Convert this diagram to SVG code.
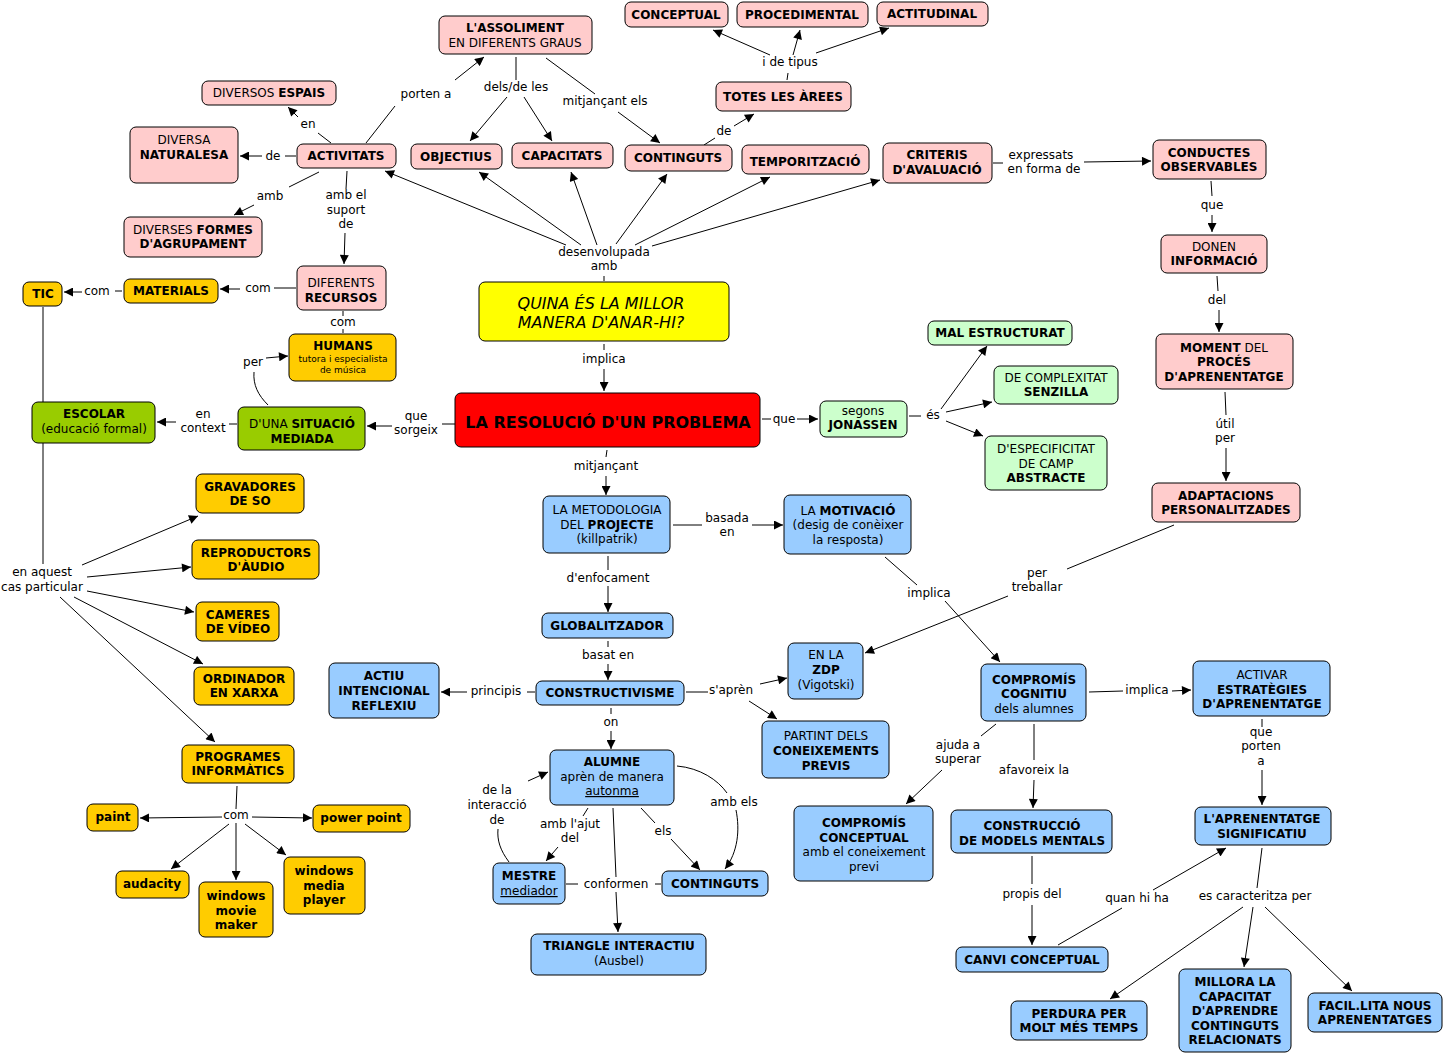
<svg xmlns="http://www.w3.org/2000/svg" width="1444" height="1054" viewBox="0 0 1444 1054">
<style>
text{font-family:"DejaVu Sans",Verdana,sans-serif;font-size:12px;fill:#000;text-anchor:middle}
.b{font-weight:bold}
.q{font-size:16px;font-style:italic}
.r{font-size:16px;font-weight:bold}
.s{font-size:9px}
.n rect{stroke:#000;stroke-width:1}
.pk rect{fill:#ffcccc}.or rect{fill:#ffcc00}.lg rect{fill:#ccffcc}.gr rect{fill:#99cc00}.bl rect{fill:#99ccff}
#conn path{stroke:#000;stroke-width:1;fill:none}
#conn .a{marker-end:url(#ah)}
.u{text-decoration:underline}
</style>
<defs>
<marker id="ah" viewBox="0 0 10 10" refX="10" refY="5" markerWidth="11" markerHeight="9" markerUnits="userSpaceOnUse" orient="auto"><path d="M0,0L10,5L0,10z" fill="#000"/></marker>
</defs>
<rect width="1444" height="1054" fill="#fff"/>
<g id="conn">
<path d="M366,143L395,106"/><path class="a" d="M455,80L484,57"/>
<path d="M331,143L318,133"/><path class="a" d="M298,117L288,107"/>
<path d="M296,156L285,156"/><path class="a" d="M262,156L240,156"/>
<path d="M319,172L289,187"/><path class="a" d="M254,205L234,215"/>
<path d="M347,171L346,189"/><path class="a" d="M345,233L344,264"/>
<path d="M516,57L516,80"/><path class="a" d="M507,97L470,141"/><path class="a" d="M524,97L552,141"/>
<path d="M546,58L595,94"/><path class="a" d="M618,112L660,143"/>
<path d="M704,145L715,138"/><path class="a" d="M734,126L754,114"/>
<path d="M787,80L788,73"/><path class="a" d="M770,55L713,30"/><path class="a" d="M793,55L800,30"/><path class="a" d="M816,53L889,28"/>
<path d="M604,281L604,276"/>
<path class="a" d="M566,245L385,171"/><path class="a" d="M581,245L479,172"/><path class="a" d="M597,245L571,172"/>
<path class="a" d="M616,244L667,174"/><path class="a" d="M635,245L770,177"/><path class="a" d="M652,246L880,180"/>
<path d="M993,163L1003,163"/><path class="a" d="M1084,162L1151,161"/>
<path d="M1211,181L1212,196"/><path class="a" d="M1212,215L1212,232"/>
<path d="M1217,276L1218,291"/><path class="a" d="M1219,310L1219,332"/>
<path d="M1225,392L1226,415"/><path class="a" d="M1226,448L1226,481"/>
<path d="M1174,525L1067,569"/><path class="a" d="M1008,596L865,653"/>
<path d="M604,344L604,350"/><path class="a" d="M604,369L604,391"/>
<path d="M762,419L771,419"/><path class="a" d="M797,419L818,419"/>
<path d="M909,416L921,416"/><path class="a" d="M941,409L987,346"/><path class="a" d="M946,412L992,402"/><path class="a" d="M946,421L983,436"/>
<path d="M455,424L442,424"/><path class="a" d="M392,426L367,426"/>
<path d="M237,424L229,424"/><path class="a" d="M176,422L157,422"/>
<path d="M268,405C258,395 253,385 254,372"/><path class="a" d="M266,358L288,356"/>
<path d="M343,311L343,316"/><path d="M343,329L343,333"/>
<path d="M296,288L274,288"/><path class="a" d="M240,289L220,289"/>
<path d="M122,291L115,291"/><path class="a" d="M82,292L64,292"/>
<path d="M43,307L43,564"/>
<path class="a" d="M82,565L198,516"/><path class="a" d="M87,577L191,567"/><path class="a" d="M87,591L194,612"/><path class="a" d="M74,597L203,664"/><path class="a" d="M60,597L215,742"/>
<path d="M237,786L236,809"/>
<path class="a" d="M222,817L140,818"/><path class="a" d="M252,817L312,818"/><path class="a" d="M229,824L171,869"/><path class="a" d="M236,823L236,880"/><path class="a" d="M245,824L286,855"/>
<path d="M607,450L606,457"/><path class="a" d="M606,476L606,495"/>
<path d="M673,525L702,525"/><path class="a" d="M752,525L783,525"/>
<path d="M608,556L608,570"/><path class="a" d="M608,586L608,612"/>
<path d="M885,557L917,585"/><path class="a" d="M945,601L1000,662"/>
<path d="M608,641L608,647"/><path class="a" d="M608,664L608,680"/>
<path d="M535,692L527,692"/><path class="a" d="M467,692L441,692"/>
<path d="M686,692L708,692"/><path class="a" d="M760,684L787,678"/><path class="a" d="M749,701L777,719"/>
<path d="M611,708L611,714"/><path class="a" d="M611,731L611,749"/>
<path d="M588,808L583,816"/><path class="a" d="M558,847L546,861"/>
<path d="M509,862C500,850 497,840 498,829"/><path class="a" d="M528,781L548,772"/>
<path d="M641,808L655,823"/><path class="a" d="M671,839L700,870"/>
<path d="M677,766C700,768 718,780 727,793"/><path class="a" d="M736,810C740,830 738,852 725,869"/>
<path d="M566,884L578,884"/><path d="M655,884L661,884"/>
<path d="M613,808L616,877"/><path class="a" d="M616,892L618,932"/>
<path d="M1089,692L1123,691"/><path class="a" d="M1172,691L1191,690"/>
<path d="M996,724L981,736"/><path class="a" d="M942,770L906,804"/>
<path d="M1034,724L1034,760"/><path class="a" d="M1034,780L1033,808"/>
<path d="M1032,856L1032,884"/><path class="a" d="M1032,905L1032,945"/>
<path d="M1058,945L1122,908"/><path class="a" d="M1153,890L1226,848"/>
<path d="M1262,719L1262,727"/><path class="a" d="M1262,770L1262,805"/>
<path d="M1262,848L1257,888"/>
<path class="a" d="M1243,907L1110,999"/><path class="a" d="M1253,907L1244,967"/><path class="a" d="M1265,907L1352,991"/>
</g>
<g id="labels">
<text x="426" y="98">porten a</text>
<text x="308" y="128">en</text>
<text x="273" y="160">de</text>
<text x="270" y="200">amb</text>
<text x="346" y="199">amb el</text><text x="346" y="214">suport</text><text x="346" y="228">de</text>
<text x="516" y="91">dels/de les</text>
<text x="605" y="105">mitjançant els</text>
<text x="724" y="135">de</text>
<text x="790" y="66">i de tipus</text>
<text x="604" y="256">desenvolupada</text><text x="604" y="270">amb</text>
<text x="1041" y="159">expressats</text><text x="1044" y="173">en forma de</text>
<text x="1212" y="209">que</text>
<text x="1217" y="304">del</text>
<text x="1225" y="428">útil</text><text x="1225" y="442">per</text>
<text x="1037" y="577">per</text><text x="1037" y="591">treballar</text>
<text x="604" y="363">implica</text>
<text x="784" y="423">que</text>
<text x="933" y="419">és</text>
<text x="416" y="420">que</text><text x="416" y="434">sorgeix</text>
<text x="203" y="418">en</text><text x="203" y="432">context</text>
<text x="253" y="366">per</text>
<text x="343" y="326">com</text>
<text x="258" y="292">com</text>
<text x="97" y="295">com</text>
<text x="42" y="576">en aquest</text><text x="42" y="591">cas particular</text>
<text x="236" y="819">com</text>
<text x="606" y="470">mitjançant</text>
<text x="727" y="522">basada</text><text x="727" y="536">en</text>
<text x="608" y="582">d'enfocament</text>
<text x="929" y="597">implica</text>
<text x="608" y="659">basat en</text>
<text x="496" y="695">principis</text>
<text x="731" y="694">s'aprèn</text>
<text x="611" y="726">on</text>
<text x="570" y="828">amb l'ajut</text><text x="570" y="842">del</text>
<text x="497" y="794">de la</text><text x="497" y="809">interacció</text><text x="497" y="824">de</text>
<text x="663" y="835">els</text>
<text x="734" y="806">amb els</text>
<text x="616" y="888">conformen</text>
<text x="1147" y="694">implica</text>
<text x="958" y="749">ajuda a</text><text x="958" y="763">superar</text>
<text x="1034" y="774">afavoreix la</text>
<text x="1032" y="898">propis del</text>
<text x="1137" y="902">quan hi ha</text>
<text x="1261" y="736">que</text><text x="1261" y="750">porten</text><text x="1261" y="765">a</text>
<text x="1255" y="900">es caracteritza per</text>
</g>
<g id="n1" class="n pk"><rect x="439" y="16" width="153" height="38" rx="6"/><text x="515" y="32" class="b">L'ASSOLIMENT</text><text x="515" y="47">EN DIFERENTS GRAUS</text></g>
<g id="n2" class="n pk"><rect x="625" y="2" width="103" height="25" rx="6"/><text x="676" y="19" class="b">CONCEPTUAL</text></g>
<g id="n3" class="n pk"><rect x="737" y="2" width="131" height="25" rx="6"/><text x="802" y="19" class="b">PROCEDIMENTAL</text></g>
<g id="n4" class="n pk"><rect x="877" y="2" width="111" height="24" rx="6"/><text x="932" y="18" class="b">ACTITUDINAL</text></g>
<g id="n5" class="n pk"><rect x="716" y="82" width="135" height="29" rx="6"/><text x="783" y="101" class="b">TOTES LES ÀREES</text></g>
<g id="n6" class="n pk"><rect x="202" y="81" width="134" height="24" rx="6"/><text x="269" y="97">DIVERSOS <tspan class="b">ESPAIS</tspan></text></g>
<g id="n7" class="n pk"><rect x="130" y="127" width="108" height="56" rx="6"/><text x="184" y="144">DIVERSA</text><text x="184" y="159" class="b">NATURALESA</text></g>
<g id="n8" class="n pk"><rect x="297" y="144" width="99" height="24" rx="6"/><text x="346" y="160" class="b">ACTIVITATS</text></g>
<g id="n9" class="n pk"><rect x="411" y="144" width="91" height="25" rx="6"/><text x="456" y="161" class="b">OBJECTIUS</text></g>
<g id="n10" class="n pk"><rect x="512" y="143" width="101" height="25" rx="6"/><text x="562" y="160" class="b">CAPACITATS</text></g>
<g id="n11" class="n pk"><rect x="625" y="145" width="107" height="26" rx="6"/><text x="678" y="162" class="b">CONTINGUTS</text></g>
<g id="n12" class="n pk"><rect x="742" y="145" width="127" height="29" rx="6"/><text x="805" y="166" class="b">TEMPORITZACIÓ</text></g>
<g id="n13" class="n pk"><rect x="883" y="143" width="109" height="40" rx="6"/><text x="937" y="159" class="b">CRITERIS</text><text x="937" y="174" class="b">D'AVALUACIÓ</text></g>
<g id="n14" class="n pk"><rect x="1153" y="140" width="113" height="39" rx="6"/><text x="1209" y="157" class="b">CONDUCTES</text><text x="1209" y="171" class="b">OBSERVABLES</text></g>
<g id="n15" class="n pk"><rect x="1161" y="235" width="106" height="38" rx="6"/><text x="1214" y="251">DONEN</text><text x="1214" y="265" class="b">INFORMACIÓ</text></g>
<g id="n16" class="n pk"><rect x="124" y="217" width="138" height="40" rx="6"/><text x="193" y="234">DIVERSES <tspan class="b">FORMES</tspan></text><text x="193" y="248" class="b">D'AGRUPAMENT</text></g>
<g id="n17" class="n pk"><rect x="297" y="266" width="89" height="44" rx="6"/><text x="341" y="287">DIFERENTS</text><text x="341" y="302" class="b">RECURSOS</text></g>
<g id="n18" class="n or"><rect x="124" y="279" width="94" height="24" rx="6"/><text x="171" y="295" class="b">MATERIALS</text></g>
<g id="n19" class="n or"><rect x="23" y="282" width="39" height="24" rx="6"/><text x="43" y="298" class="b">TIC</text></g>
<g id="n20" class="n"><rect x="479" y="282" width="250" height="59" rx="6" fill="#ffff00"/><text x="601" y="309" class="q">QUINA ÉS LA MILLOR</text><text x="601" y="328" class="q">MANERA D'ANAR-HI?</text></g>
<g id="n21" class="n or"><rect x="289" y="334" width="107" height="47" rx="6"/><text x="343" y="350" class="b">HUMANS</text><text x="343" y="362" class="s">tutora i especialista</text><text x="343" y="373" class="s">de música</text></g>
<g id="n22" class="n gr"><rect x="32" y="402" width="123" height="41" rx="6"/><text x="94" y="418" class="b">ESCOLAR</text><text x="94" y="433">(educació formal)</text></g>
<g id="n23" class="n gr"><rect x="238" y="407" width="127" height="43" rx="6"/><text x="302" y="428">D'UNA <tspan class="b">SITUACIÓ</tspan></text><text x="302" y="443" class="b">MEDIADA</text></g>
<g id="n24" class="n"><rect x="455" y="393" width="305" height="54" rx="6" fill="#ff0000"/><text x="608" y="428" class="r">LA RESOLUCIÓ D'UN PROBLEMA</text></g>
<g id="n25" class="n lg"><rect x="820" y="401" width="87" height="36" rx="6"/><text x="863" y="415">segons</text><text x="863" y="429" class="b">JONASSEN</text></g>
<g id="n26" class="n lg"><rect x="928" y="321" width="144" height="24" rx="6"/><text x="1000" y="337" class="b">MAL ESTRUCTURAT</text></g>
<g id="n27" class="n lg"><rect x="994" y="366" width="124" height="38" rx="6"/><text x="1056" y="382">DE COMPLEXITAT</text><text x="1056" y="396" class="b">SENZILLA</text></g>
<g id="n28" class="n lg"><rect x="985" y="436" width="122" height="54" rx="6"/><text x="1046" y="453">D'ESPECIFICITAT</text><text x="1046" y="468">DE CAMP</text><text x="1046" y="482" class="b">ABSTRACTE</text></g>
<g id="n29" class="n pk"><rect x="1156" y="334" width="137" height="55" rx="6"/><text x="1224" y="352"><tspan class="b">MOMENT</tspan> DEL</text><text x="1224" y="366" class="b">PROCÉS</text><text x="1224" y="381" class="b">D'APRENENTATGE</text></g>
<g id="n30" class="n pk"><rect x="1152" y="483" width="148" height="39" rx="6"/><text x="1226" y="500" class="b">ADAPTACIONS</text><text x="1226" y="514" class="b">PERSONALITZADES</text></g>
<g id="n31" class="n or"><rect x="196" y="474" width="108" height="39" rx="6"/><text x="250" y="491" class="b">GRAVADORES</text><text x="250" y="505" class="b">DE SO</text></g>
<g id="n32" class="n or"><rect x="192" y="540" width="127" height="39" rx="6"/><text x="256" y="557" class="b">REPRODUCTORS</text><text x="256" y="571" class="b">D'ÀUDIO</text></g>
<g id="n33" class="n or"><rect x="196" y="602" width="83" height="39" rx="6"/><text x="238" y="619" class="b">CAMERES</text><text x="238" y="633" class="b">DE VÍDEO</text></g>
<g id="n34" class="n or"><rect x="194" y="667" width="100" height="38" rx="6"/><text x="244" y="683" class="b">ORDINADOR</text><text x="244" y="697" class="b">EN XARXA</text></g>
<g id="n35" class="n or"><rect x="182" y="745" width="112" height="38" rx="6"/><text x="238" y="761" class="b">PROGRAMES</text><text x="238" y="775" class="b">INFORMÀTICS</text></g>
<g id="n36" class="n or"><rect x="87" y="804" width="51" height="27" rx="6"/><text x="113" y="821" class="b">paint</text></g>
<g id="n37" class="n or"><rect x="313" y="805" width="97" height="27" rx="6"/><text x="361" y="822" class="b">power point</text></g>
<g id="n38" class="n or"><rect x="116" y="871" width="73" height="27" rx="6"/><text x="152" y="888" class="b">audacity</text></g>
<g id="n39" class="n or"><rect x="199" y="882" width="74" height="55" rx="6"/><text x="236" y="900" class="b">windows</text><text x="236" y="915" class="b">movie</text><text x="236" y="929" class="b">maker</text></g>
<g id="n40" class="n or"><rect x="284" y="857" width="81" height="57" rx="6"/><text x="324" y="875" class="b">windows</text><text x="324" y="890" class="b">media</text><text x="324" y="904" class="b">player</text></g>
<g id="n41" class="n bl"><rect x="329" y="663" width="110" height="55" rx="6"/><text x="384" y="680" class="b">ACTIU</text><text x="384" y="695" class="b">INTENCIONAL</text><text x="384" y="710" class="b">REFLEXIU</text></g>
<g id="n42" class="n bl"><rect x="543" y="496" width="127" height="57" rx="6"/><text x="607" y="514">LA METODOLOGIA</text><text x="607" y="529">DEL <tspan class="b">PROJECTE</tspan></text><text x="607" y="543">(killpatrik)</text></g>
<g id="n43" class="n bl"><rect x="784" y="495" width="127" height="59" rx="6"/><text x="848" y="515">LA <tspan class="b">MOTIVACIÓ</tspan></text><text x="848" y="529">(desig de conèixer</text><text x="848" y="544">la resposta)</text></g>
<g id="n44" class="n bl"><rect x="542" y="613" width="131" height="25" rx="6"/><text x="607" y="630" class="b">GLOBALITZADOR</text></g>
<g id="n45" class="n bl"><rect x="536" y="681" width="148" height="24" rx="6"/><text x="610" y="697" class="b">CONSTRUCTIVISME</text></g>
<g id="n46" class="n bl"><rect x="788" y="643" width="75" height="56" rx="6"/><text x="826" y="659">EN LA</text><text x="826" y="674" class="b">ZDP</text><text x="826" y="689">(Vigotski)</text></g>
<g id="n47" class="n bl"><rect x="762" y="721" width="127" height="57" rx="6"/><text x="826" y="740">PARTINT DELS</text><text x="826" y="755" class="b">CONEIXEMENTS</text><text x="826" y="770" class="b">PREVIS</text></g>
<g id="n48" class="n bl"><rect x="550" y="750" width="124" height="55" rx="6"/><text x="612" y="766" class="b">ALUMNE</text><text x="612" y="781">aprèn de manera</text><text x="612" y="795" class="u">autonma</text></g>
<g id="n49" class="n bl"><rect x="493" y="863" width="72" height="41" rx="6"/><text x="529" y="880" class="b">MESTRE</text><text x="529" y="895" class="u">mediador</text></g>
<g id="n50" class="n bl"><rect x="662" y="871" width="106" height="25" rx="6"/><text x="715" y="888" class="b">CONTINGUTS</text></g>
<g id="n51" class="n bl"><rect x="531" y="934" width="175" height="41" rx="6"/><text x="619" y="950" class="b">TRIANGLE INTERACTIU</text><text x="619" y="965">(Ausbel)</text></g>
<g id="n52" class="n bl"><rect x="794" y="806" width="139" height="75" rx="6"/><text x="864" y="827" class="b">COMPROMÍS</text><text x="864" y="842" class="b">CONCEPTUAL</text><text x="864" y="856">amb el coneixement</text><text x="864" y="871">previ</text></g>
<g id="n53" class="n bl"><rect x="981" y="664" width="105" height="57" rx="6"/><text x="1034" y="684" class="b">COMPROMÍS</text><text x="1034" y="698" class="b">COGNITIU</text><text x="1034" y="713">dels alumnes</text></g>
<g id="n54" class="n bl"><rect x="1193" y="661" width="137" height="55" rx="6"/><text x="1262" y="679">ACTIVAR</text><text x="1262" y="694" class="b">ESTRATÈGIES</text><text x="1262" y="708" class="b">D'APRENENTATGE</text></g>
<g id="n55" class="n bl"><rect x="951" y="810" width="161" height="43" rx="6"/><text x="1032" y="830" class="b">CONSTRUCCIÓ</text><text x="1032" y="845" class="b">DE MODELS MENTALS</text></g>
<g id="n56" class="n bl"><rect x="1195" y="807" width="136" height="38" rx="6"/><text x="1262" y="823" class="b">L'APRENENTATGE</text><text x="1262" y="838" class="b">SIGNIFICATIU</text></g>
<g id="n57" class="n bl"><rect x="956" y="947" width="152" height="25" rx="6"/><text x="1032" y="964" class="b">CANVI CONCEPTUAL</text></g>
<g id="n58" class="n bl"><rect x="1011" y="1001" width="136" height="39" rx="6"/><text x="1079" y="1018" class="b">PERDURA PER</text><text x="1079" y="1032" class="b">MOLT MÉS TEMPS</text></g>
<g id="n59" class="n bl"><rect x="1179" y="969" width="112" height="83" rx="6"/><text x="1235" y="986" class="b">MILLORA LA</text><text x="1235" y="1001" class="b">CAPACITAT</text><text x="1235" y="1015" class="b">D'APRENDRE</text><text x="1235" y="1030" class="b">CONTINGUTS</text><text x="1235" y="1044" class="b">RELACIONATS</text></g>
<g id="n60" class="n bl"><rect x="1308" y="993" width="134" height="39" rx="6"/><text x="1375" y="1010" class="b">FACIL.LITA NOUS</text><text x="1375" y="1024" class="b">APRENENTATGES</text></g>
</svg>
